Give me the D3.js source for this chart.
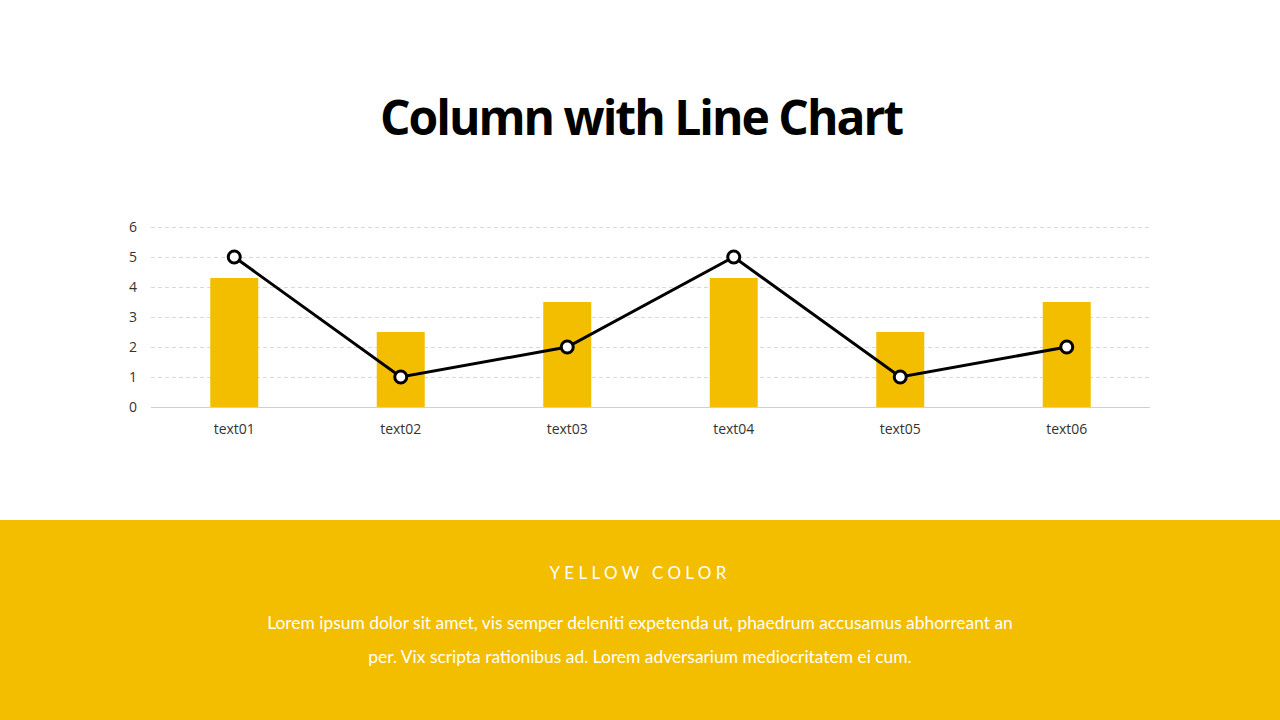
<!DOCTYPE html>
<html><head><meta charset="utf-8">
<script src="https://cdn.jsdelivr.net/npm/d3@7"></script>
<style>
body{margin:0;background:#fff;}
svg{display:block;}
</style></head>
<body>
<svg id="c" width="1280" height="720"></svg>
<script>
const categories = ["text01","text02","text03","text04","text05","text06"];
const barValues = [4.3, 2.5, 3.5, 4.3, 2.5, 3.5];
const lineValues = [5, 1, 2, 5, 1, 2];
const yTicks = [0,1,2,3,4,5,6];

const svg = d3.select("#c");
const yellow = "#F4BE00";

svg.append("text").attr("x",641).attr("y",135).attr("text-anchor","middle")
  .style("font-family","'Open Sans'").style("font-weight","700").style("font-size","48px")
  .style("letter-spacing","-2px").attr("fill","#000").text("Column with Line Chart");

const x = d3.scaleBand().domain(categories).range([151,1150]);
const y = d3.scaleLinear().domain([0,6]).range([407,227]);

const g = svg.append("g");
g.selectAll("line.grid").data(yTicks.filter(d=>d>0)).enter().append("line")
  .attr("x1",151).attr("x2",1150).attr("y1",d=>y(d)+0.5).attr("y2",d=>y(d)+0.5)
  .attr("stroke","#d9d9d9").attr("stroke-dasharray","4,3").attr("stroke-width",1);
g.append("line").attr("x1",151).attr("x2",1150).attr("y1",y(0)+0.5).attr("y2",y(0)+0.5)
  .attr("stroke","#d0d0d0").attr("stroke-width",1);

const yAxis = d3.axisLeft(y).tickValues(yTicks).tickFormat(d3.format("d")).tickSize(0).tickPadding(0);
const ya = svg.append("g").attr("transform","translate(137,0)").call(yAxis);
ya.select(".domain").remove();
ya.selectAll("text").style("font-family","'Open Sans'").style("font-size","14px").attr("fill","#333");

const xAxis = d3.axisBottom(x).tickSize(0).tickPadding(0);
const xa = svg.append("g").attr("transform","translate(0,424)").call(xAxis);
xa.select(".domain").remove();
xa.selectAll("text").style("font-family","'Open Sans'").style("font-size","14px").attr("fill","#333");

const bw = 48;
g.selectAll("rect.bar").data(barValues).enter().append("rect")
  .attr("x",(d,i)=>x(categories[i])+x.bandwidth()/2-bw/2)
  .attr("y",d=>y(d)).attr("width",bw).attr("height",d=>y(0)-y(d)).attr("fill",yellow);

const line = d3.line().x((d,i)=>x(categories[i])+x.bandwidth()/2).y(d=>y(d));
g.append("path").datum(lineValues).attr("d",line).attr("fill","none")
  .attr("stroke","#000").attr("stroke-width",3);
g.selectAll("circle").data(lineValues).enter().append("circle")
  .attr("cx",(d,i)=>x(categories[i])+x.bandwidth()/2).attr("cy",d=>y(d)).attr("r",6)
  .attr("fill","#fff").attr("stroke","#000").attr("stroke-width",3);

svg.append("rect").attr("x",0).attr("y",520).attr("width",1280).attr("height",200).attr("fill",yellow);
svg.append("text").attr("x",640).attr("y",579).attr("text-anchor","middle")
  .style("font-family","Lato").style("font-size","17px").style("letter-spacing","4.3px")
  .attr("fill","#fff").text("YELLOW COLOR");
const para = ["Lorem ipsum dolor sit amet, vis semper deleniti expetenda ut, phaedrum accusamus abhorreant an",
  "per. Vix scripta rationibus ad. Lorem adversarium mediocritatem ei cum."];
svg.selectAll("text.p").data(para).enter().append("text").attr("class","p")
  .attr("x",640).attr("y",(d,i)=>629+i*34).attr("text-anchor","middle")
  .style("font-family","Lato").style("font-size","17.4px").attr("fill","#fff").text(d=>d);
</script>
</body></html>
